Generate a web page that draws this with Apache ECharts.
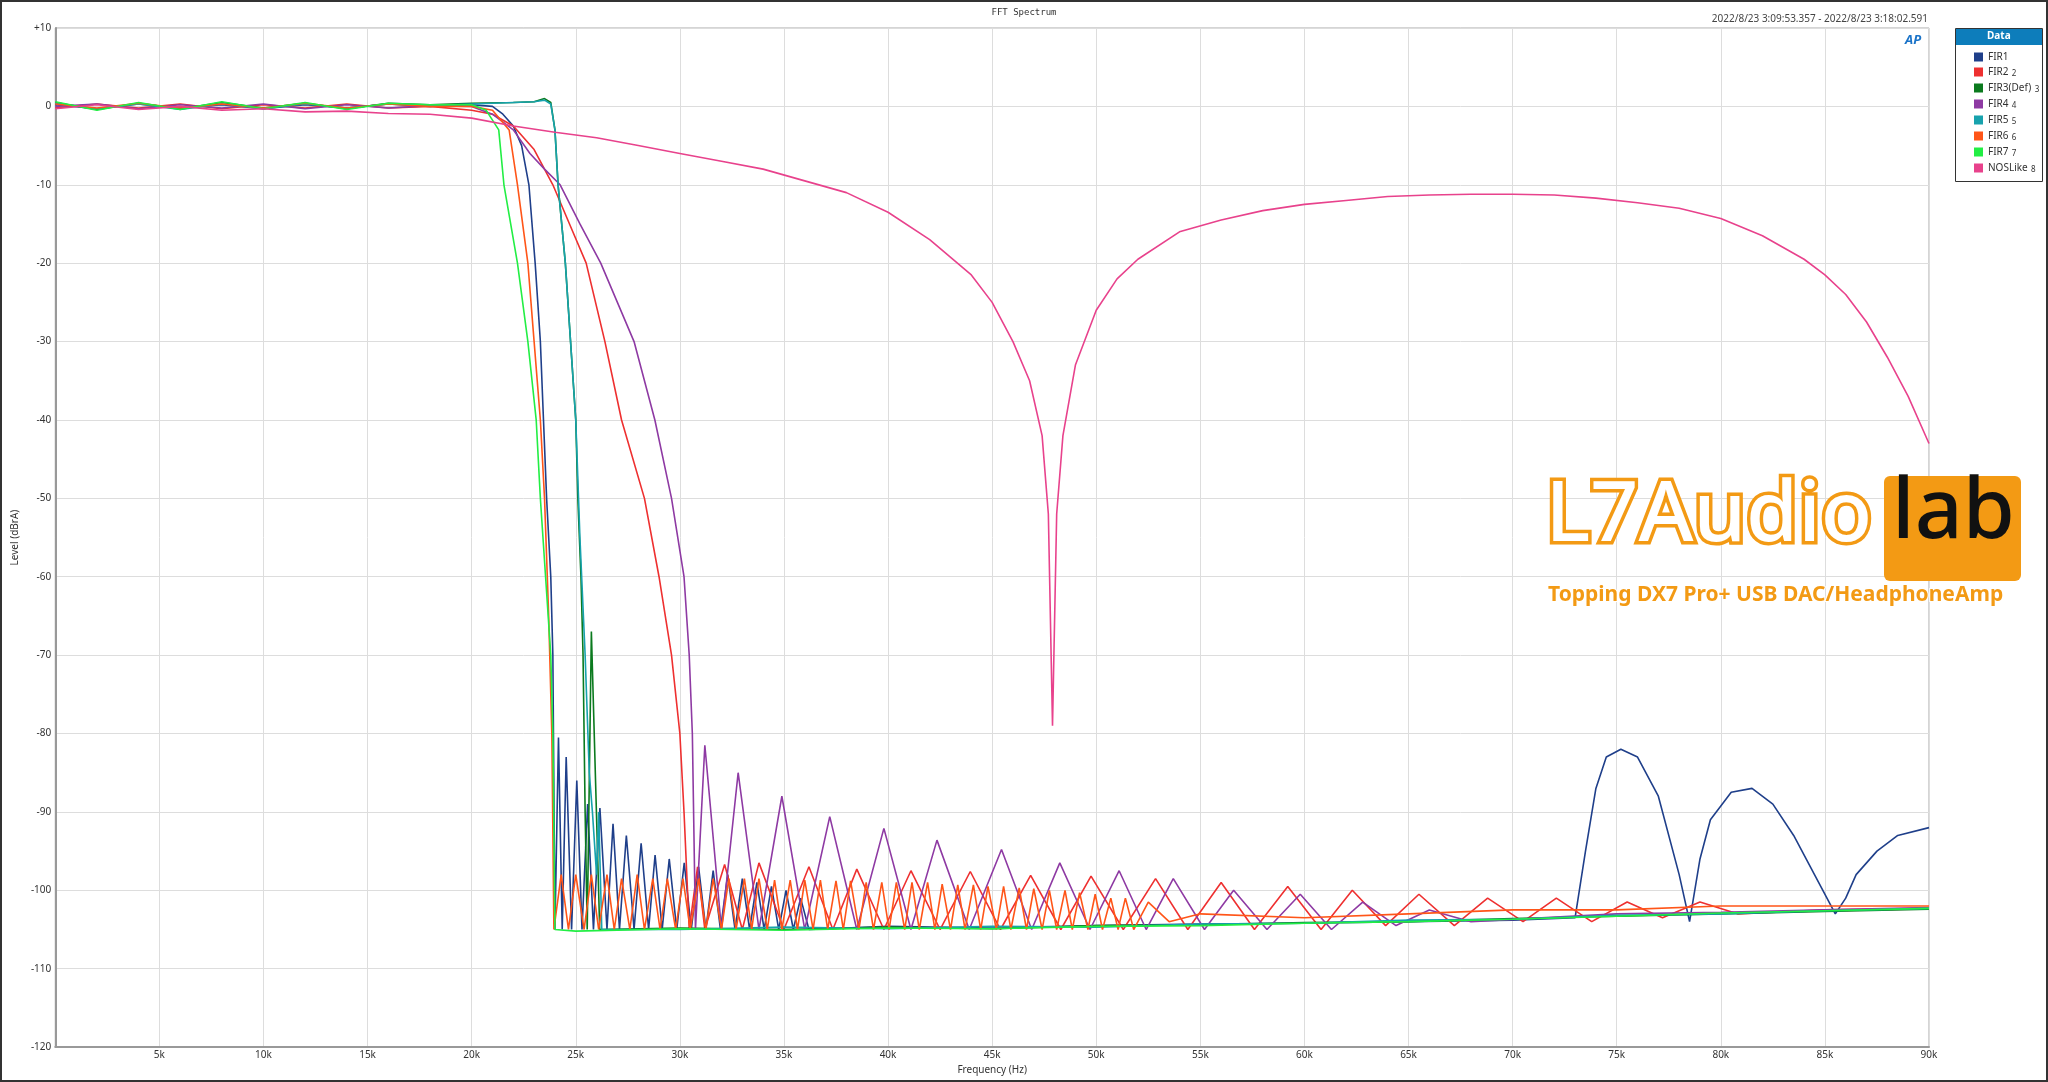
<!DOCTYPE html>
<html><head><meta charset="utf-8">
<script src="https://cdn.jsdelivr.net/npm/echarts@6/dist/echarts.min.js"></script>
<style>html,body{margin:0;padding:0;background:#fff}#c{width:2048px;height:1082px;box-sizing:border-box;border:2px solid #333}</style>
</head><body><div id="c"></div>
<script>
// ---- data: [frequency kHz, level dB] ----
const seriesNames = ['FIR1','FIR2','FIR3(Def)','FIR4','FIR5','FIR6','FIR7','NOSLike'];
const seriesTags = ['','2','3','4','5','6','7','8'];
const fir1 = [[0,0.2],[2,-0.3],[4,0.3],[6,-0.2],[8,0.2],[10,-0.3],[12,0.2],[14,-0.2],[16,0.3],[18,0],[20,0.2],[21,0],[21.5,-1],[22,-2.5],[22.4,-5],[22.75,-10],[23.05,-20],[23.3,-30],[23.45,-40],[23.6,-50],[23.8,-60],[23.9,-70],[24.0,-105],
 [24.17,-80.5],[24.35,-105],[24.54,-83],[24.8,-105],[25.05,-86],[25.3,-105],[25.57,-89],[25.85,-105],[26.16,-89.5],[26.5,-105],[26.79,-91.5],[27.1,-105],[27.43,-93],[27.8,-105],[28.14,-94],[28.5,-105],[28.81,-95.5],[29.15,-105],[29.49,-96],[29.85,-105],[30.21,-96.5],[30.55,-105],[30.9,-97],[31.25,-105],[31.6,-97.5],[31.95,-105],[32.3,-98],[32.65,-105],[33,-98.5],[33.35,-105],[33.7,-99],[34.05,-105],[34.4,-99.5],[34.75,-105],[35.1,-100],[35.45,-105],[35.8,-101],[36.2,-105],
 [40,-104.6],[45,-104.8],[50,-104.5],[55,-104.3],[60,-104.2],[65,-104],[70,-103.8],[73,-103.5],[73.5,-95],[74,-87],[74.5,-83],[75.2,-82],[76,-83],[77,-88],[78,-98],[78.5,-104],[79,-96],[79.5,-91],[80.5,-87.5],[81.5,-87],[82.5,-89],[83.5,-93],[84.5,-98],[85.5,-103],[86,-101],[86.5,-98],[87.5,-95],[88.5,-93],[90,-92]];
const fir2 = [[0,-0.2],[2,0.3],[4,-0.2],[6,0.3],[8,-0.3],[10,0.2],[12,-0.2],[14,0.3],[16,-0.2],[18,0],[20,-0.5],[21,-1],[22,-2.5],[23,-5.5],[23.9,-10],[24.7,-15],[25.5,-20],[26.4,-30],[27.2,-40],[28.3,-50],[29,-60],[29.6,-70],[30,-80],[30.2,-90],[30.45,-105],
 [30.85,-97],[31.2,-105],[32.15,-96.7],[33.0,-105],[33.8,-96.5],[35.0,-105],[36.2,-97],[37.35,-105],[38.5,-97.3],[39.8,-105],[41.1,-97.5],[42.5,-105],[43.95,-97.6],[45.4,-105],[46.85,-98.1],[48.3,-105],[49.75,-98.2],[51.3,-105],[52.85,-98.5],[54.4,-105],[56,-99],[57.6,-105],[59.2,-99.5],[60.8,-105],[62.3,-100],[63.9,-104.5],[65.5,-100.5],[67.2,-104.5],[68.8,-101],[70.5,-104],[72.1,-101],[73.8,-104],[75.5,-101.5],[77.2,-103.5],[79,-101.5],[80.8,-103],[85,-102.5],[90,-102.3]];
const fir3 = [[0,0.5],[2,-0.4],[4,0.4],[6,-0.3],[8,0.5],[10,-0.2],[12,0.4],[14,-0.3],[16,0.4],[18,0.2],[20,0.4],[22,0.5],[23,0.6],[23.5,1],[23.8,0.5],[24,-3],[24.15,-10],[24.5,-20],[24.75,-30],[25,-40],[25.1,-50],[25.25,-60],[25.35,-70],[25.45,-90],[25.55,-105],[25.75,-67],[26.15,-105],
 [30,-104.8],[35,-105],[40,-104.7],[45,-104.9],[50,-104.5],[55,-104.4],[60,-104.1],[65,-104],[70,-103.6],[75,-103.3],[80,-103],[85,-102.7],[90,-102.4]];
const fir4 = [[0,0],[2,0.3],[4,-0.3],[6,0.2],[8,-0.2],[10,0.3],[12,-0.3],[14,0.2],[16,-0.2],[18,0.1],[20,0],[21,-1],[22,-3],[22.8,-6],[23.5,-8],[24.25,-10],[25.2,-15],[26.2,-20],[27,-25],[27.8,-30],[28.8,-40],[29.6,-50],[30.2,-60],[30.45,-70],[30.6,-80],[30.75,-105],
 [31.2,-81.5],[32.0,-105],[32.8,-85],[33.8,-105],[34.9,-88],[36.0,-105],[37.2,-90.6],[38.5,-105],[39.8,-92.1],[41.1,-105],[42.35,-93.6],[43.9,-105],[45.45,-94.8],[46.9,-105],[48.25,-96.5],[49.7,-105],[51.1,-97.5],[52.4,-105],[53.7,-98.5],[55.2,-105],[56.6,-100],[58.2,-105],[59.8,-100.5],[61.3,-105],[62.8,-101.5],[64.4,-104.5],[66,-102.5],[68,-104],[75,-103],[80,-102.8],[85,-102.5],[90,-102.2]];
const fir5 = [[0,0.4],[2,-0.3],[4,0.3],[6,-0.4],[8,0.3],[10,-0.3],[12,0.3],[14,-0.2],[16,0.3],[18,0.1],[20,0.3],[22,0.5],[23,0.6],[23.5,0.8],[23.8,0.3],[24,-3],[24.15,-10],[24.5,-20],[24.75,-30],[25,-40],[25.2,-55],[25.45,-70],[25.65,-85],[25.8,-90],[26.0,-98],[26.1,-90],[26.25,-105],
 [30,-105],[35,-104.7],[40,-104.9],[45,-104.6],[50,-104.7],[55,-104.3],[60,-104.2],[65,-103.8],[70,-103.7],[75,-103.2],[80,-103],[85,-102.6],[90,-102.3]];
const fir6 = [[0,0.3],[2,-0.2],[4,0.4],[6,-0.2],[8,0.3],[10,-0.2],[12,0.4],[14,-0.2],[16,0.3],[18,0],[20,0],[21,-0.5],[21.8,-3],[22.2,-10],[22.7,-20],[23,-30],[23.3,-40],[23.5,-50],[23.7,-65],[23.85,-80],[23.95,-105],
 [24.3,-98],[24.65,-105],[25.0,-98],[25.4,-105],[25.75,-98],[26.1,-105],[26.5,-98],[26.85,-105],[27.2,-98.5],[27.6,-105],[27.95,-98],[28.3,-105],[28.7,-98.5],[29.05,-105],[29.4,-98.5],[29.8,-105],[30.15,-98.5],[30.5,-105],[30.9,-98.5],[31.25,-105],[31.6,-98.5],[32,-105],[32.35,-98.5],[32.7,-105],[33.1,-98.5],[33.45,-105],[33.8,-98.5],[34.2,-105],[34.55,-98.7],[34.9,-105],[35.3,-98.7],[35.65,-105],[36,-98.7],[36.4,-105],[36.75,-98.7],[37.1,-105],[37.5,-98.8],[37.85,-105],[38.2,-98.8],[38.6,-105],[38.95,-99],[39.3,-105],[39.7,-99],[40.05,-105],[40.4,-99],[40.8,-105],[41.15,-99],[41.5,-105],[41.9,-99],[42.25,-105],[42.6,-99.2],[43,-105],[43.35,-99.3],[43.7,-105],[44.1,-99.3],[44.45,-105],[44.8,-99.5],[45.2,-105],[45.55,-99.5],[45.9,-105],[46.3,-99.7],[46.65,-105],[47,-99.8],[47.4,-105],[47.75,-100],[48.1,-105],[48.5,-100],[48.85,-105],[49.2,-100.3],[49.6,-105],[49.95,-100.5],[50.3,-105],[50.7,-101],[51.05,-105],[51.4,-101],[51.8,-105],[52.5,-101.5],[53.5,-104],[55,-103],[60,-103.5],[65,-103],[70,-102.5],[75,-102.5],[80,-102],[85,-102],[90,-102]];
const fir7 = [[0,0.6],[2,-0.5],[4,0.5],[6,-0.4],[8,0.6],[10,-0.3],[12,0.5],[14,-0.4],[16,0.4],[18,0.2],[20,0.2],[20.7,-0.5],[21.3,-3],[21.55,-10],[22.2,-20],[22.7,-30],[23.1,-40],[23.3,-50],[23.55,-60],[23.8,-70],[23.9,-80],[24.0,-105],
 [25,-105.2],[30,-104.9],[35,-105.1],[40,-104.8],[45,-104.9],[50,-104.6],[55,-104.5],[60,-104.2],[65,-104],[70,-103.7],[75,-103.3],[80,-102.9],[85,-102.6],[90,-102.3]];
const nosLike = [[0,-0.3],[2,0.2],[4,-0.4],[6,0],[8,-0.5],[10,-0.3],[12,-0.7],[14,-0.6],[16,-0.9],[18,-1],[20,-1.5],[22,-2.5],[24,-3.3],[26,-4],[28,-5],[30,-6],[32,-7],[34,-8],[36,-9.5],[38,-11],[40,-13.5],[42,-17],[44,-21.5],[45,-25],[46,-30],[46.8,-35],[47.4,-42],[47.7,-52],[47.9,-79],[48.1,-52],[48.4,-42],[49,-33],[50,-26],[51,-22],[52,-19.5],[54,-16],[56,-14.5],[58,-13.3],[60,-12.5],[62,-12],[64,-11.5],[66,-11.3],[68,-11.2],[70,-11.2],[72,-11.3],[74,-11.7],[76,-12.3],[78,-13],[80,-14.3],[82,-16.5],[84,-19.5],[85,-21.5],[86,-24],[87,-27.5],[88,-32],[89,-37],[90,-43]];
const seriesData = [fir1, fir2, fir3, fir4, fir5, fir6, fir7, nosLike];
const colors = ['#1f3f8a','#ee3030','#0b7a1e','#8e3aa3','#17a2ad','#ff5518','#22ee44','#e8428c'];
const yMin = -120, yMax = 10, yStep = 10;
const xMin = 0, xMax = 90, xStep = 5;

const chart = echarts.init(document.getElementById('c'));
const font = 'Noto Sans';
chart.setOption({
  animation:false,
  color:colors,
  title:{text:'FFT Spectrum',left:'center',top:1,textStyle:{fontSize:9,fontWeight:'normal',color:'#333',fontFamily:'DejaVu Sans Mono'}},
  grid:{left:39,right:117,top:26,bottom:27,show:true,borderColor:'#aaa',borderWidth:1},
  legend:{orient:'vertical',left:1967,top:45,itemWidth:9,itemHeight:9,itemGap:4,icon:'rect',
    data:seriesNames,
    formatter:n=>{const i=seriesNames.indexOf(n);return '{a|'+n+'}'+(seriesTags[i]?' {b|'+seriesTags[i]+'}':'');},
    textStyle:{rich:{a:{fontSize:10,color:'#333',fontFamily:font},b:{fontSize:8,color:'#333',fontFamily:font,verticalAlign:'bottom',padding:[4,0,0,0]}}}},
  xAxis:{type:'value',min:xMin,max:xMax,interval:xStep,
    name:'Frequency (Hz)',nameLocation:'middle',nameGap:10,nameTextStyle:{fontSize:10,color:'#333',fontFamily:font},
    axisLine:{onZero:false,lineStyle:{color:'#999',width:2}},axisTick:{show:false},
    splitLine:{lineStyle:{color:'#ddd'}},
    axisLabel:{fontSize:10,color:'#333',fontFamily:font,margin:3,formatter:v=>v===0?'':v+'k'}},
  yAxis:{type:'value',min:yMin,max:yMax,interval:yStep,
    name:'Level (dBrA)',nameLocation:'middle',nameGap:26,nameTextStyle:{fontSize:10,color:'#333',fontFamily:font},
    axisLine:{show:true,onZero:false,lineStyle:{color:'#999',width:2}},axisTick:{show:false},
    splitLine:{lineStyle:{color:'#ddd'}},
    axisLabel:{fontSize:10,color:'#333',fontFamily:font,margin:4,formatter:v=>v>0?'+'+v:''+v}},
  series:seriesData.map((d,i)=>({name:seriesNames[i],type:'line',data:d,showSymbol:false,
    lineStyle:{width:1.6,color:colors[i]},itemStyle:{color:colors[i]}})),
  graphic:[
    {type:'rect',left:1953,top:26,shape:{width:87,height:153},style:{fill:'#fff',stroke:'#333',lineWidth:1},z:0},
    {type:'rect',left:1954,top:27,shape:{width:86,height:16},style:{fill:'#0d7dbb'},z:1},
    {type:'text',left:1985,top:29,style:{text:'Data',fill:'#fff',font:'bold 10px "Noto Sans"'},z:2},
    {type:'text',right:118,top:12,style:{text:'2022/8/23 3:09:53.357 - 2022/8/23 3:18:02.591',fill:'#444',font:'10px "Noto Sans"'}},
    {type:'text',left:1903,top:32,style:{text:'AP',fill:'#1a73c8',font:'italic bold 13px "Noto Sans"'}},
    {type:'text',left:1540,top:470,style:{text:'L7Audio',fill:'#fff',stroke:'#f39a14',lineWidth:7,font:'500 84px "Noto Sans"'},z:10},
    {type:'rect',left:1882,top:474,shape:{width:137,height:105,r:6},style:{fill:'#f39a14'},z:10},
    {type:'text',left:1890,top:470,style:{text:'lab',fill:'#111',font:'500 84px "Noto Sans"'},z:11},
    {type:'text',left:1545,top:582,style:{text:'Topping DX7 Pro+ USB DAC/HeadphoneAmp',fill:'#f39a14',stroke:'#fff',lineWidth:2,font:'bold 21px "Noto Sans"'},z:10}
  ]
});
</script></body></html>
